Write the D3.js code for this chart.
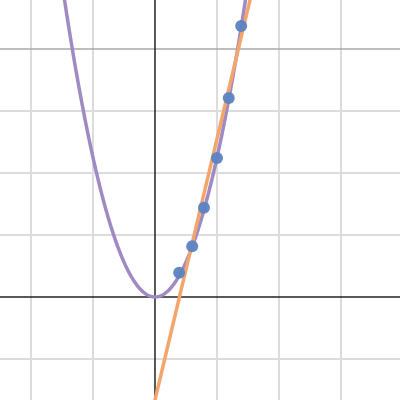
<!DOCTYPE html>
<html><head><meta charset="utf-8">
<script src="https://cdn.jsdelivr.net/npm/d3@7"></script>
<style>body{margin:0;background:#fff}</style></head>
<body><svg id="c" width="400" height="400"></svg>
<script>
const pointX = [0.39, 0.60, 0.79, 1.0, 1.19, 1.39];
const pointY = [0.39, 0.82, 1.44, 2.24, 3.21, 4.37];
const parabolaA = 2.25;
const lineSlope = 4.21, lineIntercept = -1.66;
const gridX = [-2, -1, 0, 1, 2, 3];
const gridY = [-1, 0, 1, 2, 3, 4];

const svg = d3.select("#c");
const x = d3.scaleLinear().domain([-2.5, 3.952]).range([0, 400]);
const y = d3.scaleLinear().domain([-1.661, 4.79]).range([400, 0]);

svg.selectAll(".gx").data(gridX.filter(d=>d!==0)).join("line")
  .attr("x1", d=>x(d)).attr("x2", d=>x(d)).attr("y1",0).attr("y2",400)
  .attr("stroke","#dcdcdc").attr("stroke-width",2);
svg.selectAll(".gy").data(gridY.filter(d=>d!==0)).join("line")
  .attr("y1", d=>y(d)).attr("y2", d=>y(d)).attr("x1",0).attr("x2",400)
  .attr("stroke", d=>d===4?"#a8a8a8":"#dcdcdc").attr("stroke-width",d=>d===4?1.5:2);
svg.append("line").attr("x1",x(0)).attr("x2",x(0)).attr("y1",0).attr("y2",400).attr("stroke","#222").attr("stroke-width",1.5);
svg.append("line").attr("y1",y(0)).attr("y2",y(0)).attr("x1",0).attr("x2",400).attr("stroke","#222").attr("stroke-width",1.5);

const xs = d3.range(-2.5, 2.0, 0.01);
svg.append("path").datum(xs)
  .attr("d", d3.line().x(d=>x(d)).y(d=>y(parabolaA*d*d)))
  .attr("fill","none").attr("stroke","#9f8ac3").attr("stroke-width",3.5);
svg.append("path").datum([-0.5, 2])
  .attr("d", d3.line().x(d=>x(d)).y(d=>y(lineSlope*d+lineIntercept)))
  .attr("fill","none").attr("stroke","#f4a56c").attr("stroke-width",3.5);
svg.selectAll(".pt").data(pointX).join("circle")
  .attr("cx",d=>x(d)).attr("cy",(d,i)=>y(pointY[i])).attr("r",6)
  .attr("fill","#5b83c2").attr("fill-opacity",0.95);
</script></body></html>
